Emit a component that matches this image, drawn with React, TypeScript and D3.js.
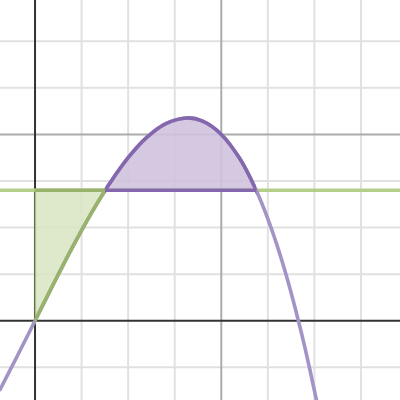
import React from "react";
import * as d3 from "d3";

// Curve samples (graph units: minor grid = 0.5, major grid = 2)
const curveX = [-0.376, -0.2, 0, 0.2, 0.4, 0.6, 0.754, 0.8, 1.0, 1.2, 1.4, 1.633, 1.8, 2.0, 2.2, 2.375, 2.5, 2.6, 2.7, 2.828, 2.9, 3.0, 3.05];
const curveY = [-0.739, -0.398, 0, 0.398, 0.784, 1.146, 1.4, 1.472, 1.75, 1.968, 2.114, 2.177, 2.142, 2.0, 1.738, 1.4, 1.094, 0.806, 0.479, 0, -0.297, -0.75, -0.993];
// Horizontal line value
const lineY = 1.4;
// Region bounds: green region from x=0 to first crossing, purple between crossings
const greenX = [0, 0.754];
const purpleX = [0.754, 2.375];
// Viewport
const viewX = [-0.376, 3.919];
const viewY = [-0.851, 3.443];
const minorStep = 0.5;
const majorEvery = 4;

const W = 400;
const H = 400;

export default function App() {
  const x = d3.scaleLinear().domain(viewX).range([0, W]);
  const y = d3.scaleLinear().domain(viewY).range([H, 0]);
  const pts: [number, number][] = curveX.map((v, i) => [v, curveY[i]]);
  const curve = d3.curveCatmullRom.alpha(0.5);
  const linePath = d3
    .line<[number, number]>()
    .x((d) => x(d[0]))
    .y((d) => y(d[1]))
    .curve(curve)(pts) as string;
  const areaPath = d3
    .area<[number, number]>()
    .x((d) => x(d[0]))
    .y0(y(lineY))
    .y1((d) => y(d[1]))
    .curve(curve)(pts) as string;

  const kx0 = Math.ceil(viewX[0] / minorStep);
  const kx1 = Math.floor(viewX[1] / minorStep);
  const ky0 = Math.ceil(viewY[0] / minorStep);
  const ky1 = Math.floor(viewY[1] / minorStep);
  const xs = d3.range(kx0, kx1 + 1);
  const ys = d3.range(ky0, ky1 + 1);

  const minorColor = "#e1e1e1";
  const majorColor = "#acacac";
  const axisColor = "#333333";

  const lightGreen = "#b3cf8a";
  const darkGreen = "#97b46a";
  const greenFill = "#d8e5c2";
  const lightPurple = "#a394c6";
  const darkPurple = "#8567ae";
  const purpleFill = "#cfc3de";
  const sw = 3.6;

  return (
    <svg
      width={W}
      height={H}
      style={{ position: "fixed", left: 0, top: 0, background: "#fff" }}
    >
      <defs>
        <clipPath id="clipGreen">
          <rect x={x(greenX[0])} y={0} width={x(greenX[1]) - x(greenX[0])} height={H} />
        </clipPath>
        <clipPath id="clipPurple">
          <rect x={x(purpleX[0])} y={0} width={x(purpleX[1]) - x(purpleX[0])} height={H} />
        </clipPath>
      </defs>
      <rect x={0} y={0} width={W} height={H} fill="#fff" />
      {/* minor grid */}
      {xs
        .filter((k) => k % majorEvery !== 0)
        .map((k) => (
          <line key={"mx" + k} x1={x(k * minorStep)} x2={x(k * minorStep)} y1={0} y2={H} stroke={minorColor} strokeWidth={2} />
        ))}
      {ys
        .filter((k) => k % majorEvery !== 0)
        .map((k) => (
          <line key={"my" + k} y1={y(k * minorStep)} y2={y(k * minorStep)} x1={0} x2={W} stroke={minorColor} strokeWidth={2} />
        ))}
      {/* major grid */}
      {xs
        .filter((k) => k % majorEvery === 0 && k !== 0)
        .map((k) => (
          <line key={"Mx" + k} x1={x(k * minorStep)} x2={x(k * minorStep)} y1={0} y2={H} stroke={majorColor} strokeWidth={2} />
        ))}
      {ys
        .filter((k) => k % majorEvery === 0 && k !== 0)
        .map((k) => (
          <line key={"My" + k} y1={y(k * minorStep)} y2={y(k * minorStep)} x1={0} x2={W} stroke={majorColor} strokeWidth={2} />
        ))}
      {/* axes */}
      <line x1={x(0)} x2={x(0)} y1={0} y2={H} stroke={axisColor} strokeWidth={2} />
      <line y1={y(0)} y2={y(0)} x1={0} x2={W} stroke={axisColor} strokeWidth={2} />

      {/* region fills */}
      <path d={areaPath} fill={greenFill} fillOpacity={0.85} clipPath="url(#clipGreen)" />
      <path d={areaPath} fill={purpleFill} fillOpacity={0.9} clipPath="url(#clipPurple)" />

      {/* base graphs */}
      <line x1={0} x2={W} y1={y(lineY)} y2={y(lineY)} stroke={lightGreen} strokeWidth={sw} />
      <path d={linePath} fill="none" stroke={lightPurple} strokeWidth={sw} strokeLinecap="round" />

      {/* green region boundary */}
      <path d={linePath} fill="none" stroke={darkGreen} strokeWidth={sw} clipPath="url(#clipGreen)" />
      <line x1={x(greenX[0])} x2={x(greenX[1])} y1={y(lineY)} y2={y(lineY)} stroke={darkGreen} strokeWidth={sw} />
      <line x1={x(greenX[0])} x2={x(greenX[0])} y1={y(lineY)} y2={y(0)} stroke={darkGreen} strokeOpacity={0.45} strokeWidth={2.5} />

      {/* purple region boundary */}
      <line x1={x(purpleX[0])} x2={x(purpleX[1])} y1={y(lineY)} y2={y(lineY)} stroke={darkPurple} strokeWidth={sw} />
      <path d={linePath} fill="none" stroke={darkPurple} strokeWidth={sw} clipPath="url(#clipPurple)" />
    </svg>
  );
}
